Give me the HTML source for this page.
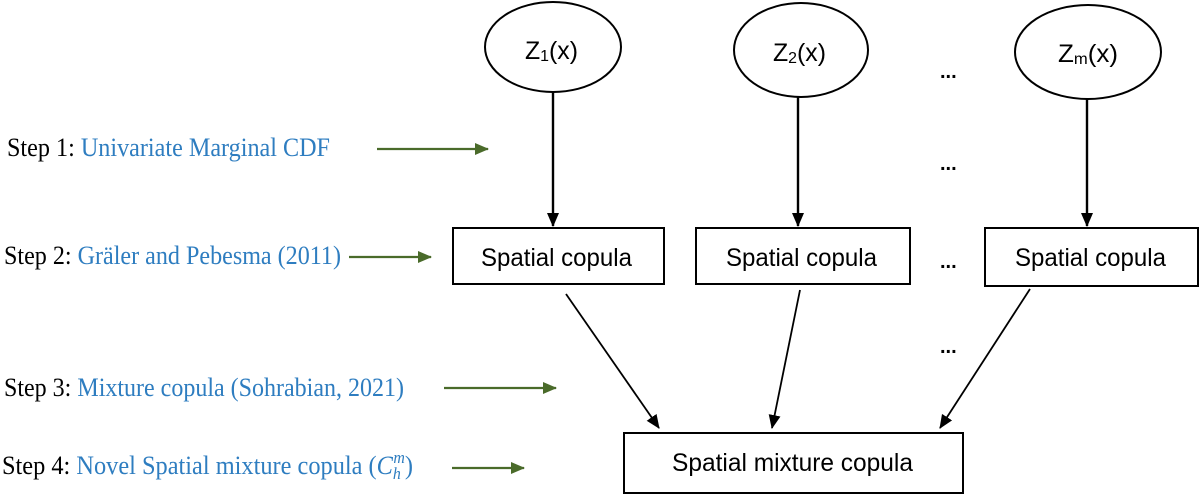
<!DOCTYPE html>
<html><head><meta charset="utf-8"><style>html,body{margin:0;padding:0;background:#fff}svg{display:block}</style></head>
<body>
<svg width="1200" height="496" viewBox="0 0 1200 496" xmlns="http://www.w3.org/2000/svg">
<defs>
<marker id="ab" markerWidth="14" markerHeight="14" refX="13" refY="6" orient="auto" markerUnits="userSpaceOnUse" viewBox="0 0 14 12"><path d="M0,0 L14,6 L0,12 z" fill="#000"/></marker>
<marker id="ag" markerWidth="14" markerHeight="14" refX="13" refY="6" orient="auto" markerUnits="userSpaceOnUse" viewBox="0 0 14 12"><path d="M0,0 L14,6 L0,12 z" fill="#4a6b2a"/></marker>
</defs>
<g fill="none" stroke="#000" stroke-width="2">
<ellipse cx="553" cy="47" rx="68" ry="45"/>
<ellipse cx="801" cy="50" rx="67" ry="47"/>
<ellipse cx="1088" cy="52" rx="73" ry="47"/>
<rect x="453" y="228" width="211" height="56"/>
<rect x="696" y="228" width="214" height="56"/>
<rect x="985" y="228" width="213" height="58"/>
<rect x="624" y="433" width="339" height="60"/>
</g>
<g stroke="#000" stroke-width="2.4" marker-end="url(#ab)">
<line x1="553" y1="92" x2="553" y2="226"/>
<line x1="798" y1="97" x2="798" y2="226"/>
<line x1="1087" y1="99" x2="1087" y2="226"/>
</g>
<g stroke="#000" stroke-width="1.8" marker-end="url(#ab)">
<line x1="566" y1="294" x2="659" y2="428"/>
<line x1="800" y1="290" x2="772" y2="428"/>
<line x1="1030" y1="289" x2="940" y2="428"/>
</g>
<g stroke="#4a6b2a" stroke-width="2.2" marker-end="url(#ag)">
<line x1="377" y1="149" x2="488" y2="149"/>
<line x1="349" y1="257" x2="431" y2="257"/>
<line x1="444" y1="388" x2="556" y2="388"/>
<line x1="452" y1="468" x2="524" y2="468"/>
</g>
<g font-family="Liberation Sans, sans-serif" font-size="25" fill="#000">
<text x="525" y="59" textLength="53" lengthAdjust="spacingAndGlyphs">Z<tspan font-size="16" dy="2">1</tspan><tspan dy="-2">(x)</tspan></text>
<text x="773" y="61" textLength="53" lengthAdjust="spacingAndGlyphs">Z<tspan font-size="16" dy="2">2</tspan><tspan dy="-2">(x)</tspan></text>
<text x="1058" y="62" textLength="60" lengthAdjust="spacingAndGlyphs">Z<tspan font-size="16" dy="2">m</tspan><tspan dy="-2">(x)</tspan></text>
<text x="481" y="266" textLength="151" lengthAdjust="spacingAndGlyphs">Spatial copula</text>
<text x="726" y="266" textLength="151" lengthAdjust="spacingAndGlyphs">Spatial copula</text>
<text x="1015" y="266" textLength="151" lengthAdjust="spacingAndGlyphs">Spatial copula</text>
<text x="672" y="471" textLength="241" lengthAdjust="spacingAndGlyphs">Spatial mixture copula</text>
<text x="940" y="78" font-size="20" font-weight="bold">...</text>
<text x="940" y="170" font-size="20" font-weight="bold">...</text>
<text x="940" y="268" font-size="20" font-weight="bold">...</text>
<text x="940" y="353" font-size="20" font-weight="bold">...</text>
</g>
<g font-family="Liberation Serif, serif" font-size="26">
<text x="7" y="156" textLength="323" lengthAdjust="spacingAndGlyphs"><tspan fill="#000">Step 1: </tspan><tspan fill="#2e7dc0">Univariate Marginal CDF</tspan></text>
<text x="4" y="264" textLength="337" lengthAdjust="spacingAndGlyphs"><tspan fill="#000">Step 2: </tspan><tspan fill="#2e7dc0">Gräler and Pebesma (2011)</tspan></text>
<text x="4" y="396" textLength="400" lengthAdjust="spacingAndGlyphs"><tspan fill="#000">Step 3: </tspan><tspan fill="#2e7dc0">Mixture copula (Sohrabian, 2021)</tspan></text>
<text x="2" y="474" textLength="411" lengthAdjust="spacingAndGlyphs"><tspan fill="#000">Step 4: </tspan><tspan fill="#2e7dc0">Novel Spatial mixture copula (<tspan font-style="italic">C</tspan><tspan font-style="italic" font-size="17" dy="5">h</tspan><tspan font-style="italic" font-size="17" dx="-8" dy="-16">m</tspan><tspan dy="11">)</tspan></tspan></text>
</g>
</svg>
</body></html>
